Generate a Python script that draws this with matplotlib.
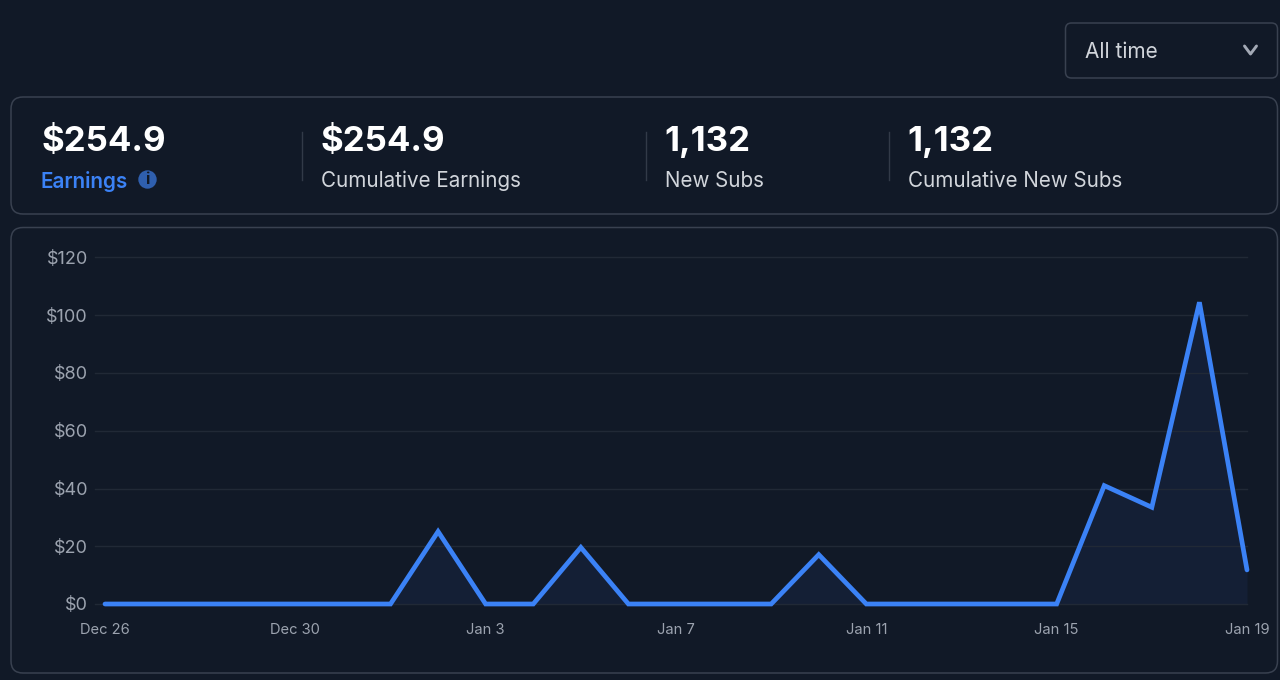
import numpy as np
import pandas as pd
import matplotlib
matplotlib.use("Agg")
import matplotlib.pyplot as plt
import matplotlib.dates as mdates
from matplotlib.patches import FancyBboxPatch, Circle

# data
dates = pd.date_range("2024-12-26", "2025-01-19", freq="D")
earnings = [0, 0, 0, 0, 0, 0, 0, 25.1, 0, 0, 19.6, 0, 0, 0, 0, 17.1, 0, 0, 0, 0, 0,
            41.0, 33.5, 104.5, 11.8]
y_ticks = [0, 20, 40, 60, 80, 100, 120]
y_tick_labels = ["$0", "$20", "$40", "$60", "$80", "$100", "$120"]
x_tick_dates = ["2024-12-26", "2024-12-30", "2025-01-03", "2025-01-07", "2025-01-11", "2025-01-15", "2025-01-19"]
x_tick_labels = ["Dec 26", "Dec 30", "Jan 3", "Jan 7", "Jan 11", "Jan 15", "Jan 19"]
stat_values = ["$254.9", "$254.9", "1,132", "1,132"]
stat_labels = ["Earnings", "Cumulative Earnings", "New Subs", "Cumulative New Subs"]
range_label = "All time"

BG = "#111927"
BORDER = "#394150"
BLUE = "#3b82f6"
W, H = 1280, 680

plt.rcParams["font.family"] = ["Inter", "DejaVu Sans"]

fig = plt.figure(figsize=(W / 100, H / 100), dpi=100, facecolor=BG)

# overlay in pixel coordinates for the page furniture
page = fig.add_axes([0, 0, 1, 1])
page.set_xlim(0, W)
page.set_ylim(H, 0)
page.axis("off")


def card(x0, y0, x1, y1, r):
    page.add_patch(FancyBboxPatch((x0 + r, y0 + r), x1 - x0 - 2 * r, y1 - y0 - 2 * r,
                                  boxstyle=f"round,pad={r},rounding_size={r}",
                                  fc="none", ec=BORDER, lw=1.1))


card(1065.5, 23, 1277.5, 78, 6)
card(11, 97, 1277.5, 214, 12)
card(11, 227.5, 1277.5, 673, 12)

# dropdown
page.text(1085, 52, range_label, color="#d1d5db", fontsize=15, va="center", ha="left")
page.plot([1244.5, 1250.5, 1256.5], [46, 54, 46], color="#a3a9b5", lw=2.1,
          solid_capstyle="round", solid_joinstyle="round")

# stats row
stat_x = [42, 321, 665, 908]
for i in range(4):
    page.text(stat_x[i] - 1 + (0.5 if i == 0 else 0), 142, stat_values[i], color="#ffffff", fontsize=25,
              fontweight="bold", va="center", ha="left")
    page.text(stat_x[i] - (1 if i == 0 else 0), 181, stat_labels[i], color=BLUE if i == 0 else "#d1d5db",
              fontsize=14.85, fontweight="semibold" if i == 0 else "normal",
              va="center", ha="left")
    if i > 0:
        page.plot([stat_x[i] - 19] * 2, [132, 180], color="#323a48", lw=1)

# info icon
page.add_patch(Circle((147.5, 179.5), 9.2, fc="#2f5fae", ec="none"))
page.text(147.5, 179.5, "i", color=BG, fontsize=11.5, fontweight="bold", va="center", ha="center")

# chart
left, right, top, bottom = 95, 1247, 245, 604
ax = fig.add_axes([left / W, 1 - bottom / H, (right - left) / W, (bottom - top) / H])
ax.patch.set_alpha(0)

x = mdates.date2num(dates)
step_px = (1247 - 105) / (len(x) - 1)
ax.set_xlim(x[0] - (105 - left) / step_px, x[-1])
ax.set_ylim(0, (604 - top) / (346.5 / 120))

ax.fill_between(x, earnings, 0, color="#141f35", lw=0, zorder=1)
ax.plot(x, earnings, color=BLUE, lw=3.4, zorder=3, clip_on=False,
        solid_capstyle="round", solid_joinstyle="miter")

ax.set_yticks(y_ticks)
ax.set_yticklabels(y_tick_labels)
ax.set_xticks(mdates.date2num(pd.to_datetime(x_tick_dates)))
ax.set_xticklabels(x_tick_labels)
ax.tick_params(axis="y", length=0, pad=5, labelsize=13, labelcolor="#9ca3af")
ax.tick_params(axis="x", length=0, pad=14, labelsize=10.6, labelcolor="#9ca3af")
ax.grid(axis="y", color="#212936", lw=1, zorder=2)
ax.set_axisbelow(False)
for spine in ax.spines.values():
    spine.set_visible(False)
for line in ax.yaxis.get_gridlines():
    line.set_clip_on(False)

fig.savefig("out.png", dpi=100, facecolor=BG)
